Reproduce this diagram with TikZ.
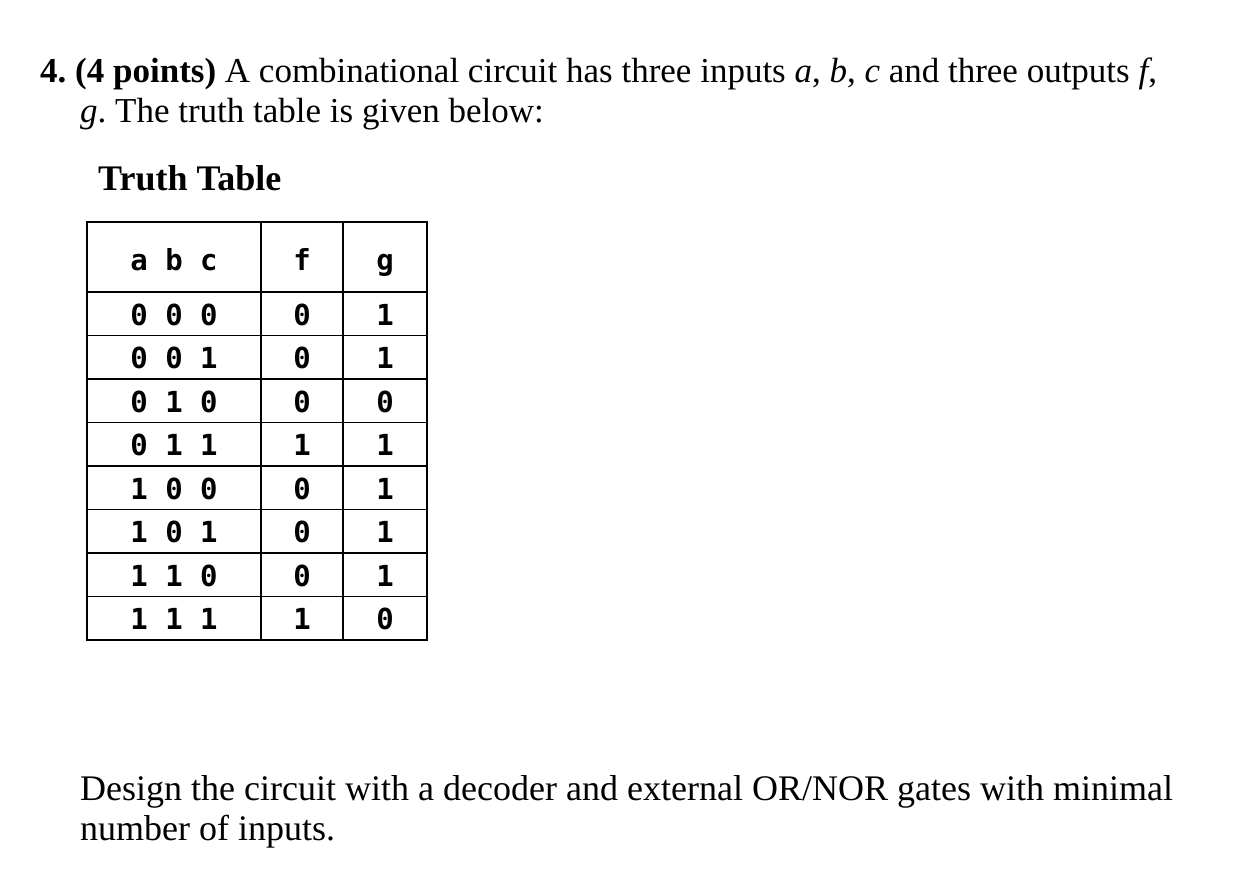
\documentclass[tikz,border=0pt]{standalone}
\usepackage{fontspec}
\setmainfont{Liberation Serif}
\setmonofont{DejaVu Sans Mono}
\frenchspacing
\begin{document}
\begin{tikzpicture}[x=1pt,y=-1pt,
  txt/.style={anchor=base west,inner sep=0pt,font=\fontsize{35}{40}\selectfont},
  cell/.style={anchor=base,inner sep=0pt,font=\fontsize{29}{32}\selectfont\ttfamily\bfseries},
  grid/.style={line width=1.5pt}]
\useasboundingbox (0,0) rectangle (1258,886);
\node[txt] (l1) at (40,82) {\textbf{4. (4 points)} A combinational circuit has three inputs \textit{a}, \textit{b}, \textit{c} and three outputs \textit{f},};
\node[txt] (l2) at (80,122) {\textit{g}. The truth table is given below:};
\node[txt,font=\fontsize{36}{40}\selectfont] (tt) at (98,190) {\textbf{Truth Table}};
\node[txt,font=\fontsize{36}{40}\selectfont] (d1) at (80,800) {Design the circuit with a decoder and external OR/NOR gates with minimal};
\node[txt,font=\fontsize{36}{40}\selectfont] (d2) at (80,840) {number of inputs.};
\draw[grid] (87,222) rectangle (427,640);
\draw[grid] (261,222) -- (261,640) (343,222) -- (343,640);
\foreach \i in {0,...,7} \draw[grid] (87,292+43.5*\i) -- (427,292+43.5*\i);
\node[cell] (h1) at (174,270) {a b c};
\node[cell] (h2) at (302,270) {f};
\node[cell] (h3) at (385,270) {g};
\foreach \i/\abc/\f/\g in {0/0 0 0/0/1,1/0 0 1/0/1,2/0 1 0/0/0,3/0 1 1/1/1,4/1 0 0/0/1,5/1 0 1/0/1,6/1 1 0/0/1,7/1 1 1/1/0}{
  \node[cell] (r\i a) at (174,325+43.5*\i) {\abc};
  \node[cell] (r\i f) at (302,325+43.5*\i) {\f};
  \node[cell] (r\i g) at (385,325+43.5*\i) {\g};
}
\end{tikzpicture}
\end{document}
